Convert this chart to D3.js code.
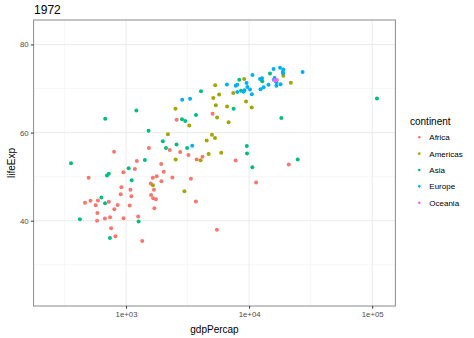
<!DOCTYPE html>
<html><head><meta charset="utf-8">
<script src="https://cdn.jsdelivr.net/npm/d3@7"></script>
<style>
html,body{margin:0;padding:0;background:#fff;}
svg text{font-family:"Liberation Sans",Arial,Helvetica,sans-serif;}
</style></head>
<body><svg id="chart" width="474" height="338"></svg>
<script>
// ---- data (gapminder, 1972) ----
const continents = ["Africa","Americas","Asia","Europe","Oceania"];
const continentColors = ["#F8766D","#A3A500","#00BF7D","#00B0F6","#E76BF3"];

const africaGdp = [4182.66,5473.29,1085.80,2263.61,854.74,464.10,1684.15,1070.01,1104.10,1937.58,904.90,3213.15,2378.20,3694.21,2024.01,672.41,514.32,566.24,11401.95,756.09,1178.22,741.67,820.22,1222.36,496.58,803.01,21011.50,1748.56,584.62,581.37,1586.85,2575.48,1930.19,724.92,3746.08,954.21,1698.39,5047.66,590.58,1532.99,1597.71,1353.76,1254.58,7765.96,1659.65,3364.84,915.99,1649.66,2753.29,950.74,1773.50,799.36];
const africaLife = [54.518,37.928,47.014,56.024,43.591,44.057,47.049,43.457,45.569,48.944,45.989,54.907,49.801,44.366,51.137,40.516,44.51,43.515,48.69,38.308,51.756,40.762,36.486,53.559,49.767,42.614,52.773,44.851,41.766,39.977,48.437,62.944,52.862,44.284,53.867,40.546,42.821,64.274,44.6,56.48,45.815,35.4,40.973,53.696,45.083,49.552,47.62,49.759,55.602,51.016,50.107,55.635];

const americasGdp = [9443.04,2980.33,4985.71,18970.57,5494.02,3264.66,5118.15,5305.45,2189.87,5280.99,4520.25,4031.41,1654.46,2529.84,7433.89,6809.41,4688.59,5364.25,2523.34,5937.83,9123.04,6619.55,21806.04,5703.41,10505.26];
const americasLife = [67.065,46.714,59.504,72.88,63.441,61.623,67.849,70.723,59.631,58.796,58.207,53.738,48.042,53.884,69.0,62.361,55.151,66.216,65.427,55.448,72.16,65.9,71.34,68.673,65.712];

const asiaGdp = [739.98,18268.66,630.23,421.62,676.90,8315.93,724.03,1111.11,9613.82,9576.04,12786.93,14778.79,2110.86,3701.62,3030.88,109347.87,7486.38,2849.09,1421.74,357.00,674.79,10618.04,1049.94,1989.37,24837.43,8597.76,1213.40,2571.42,4062.52,1524.36,699.50,3133.41,1265.05];
const asiaLife = [36.088,63.3,45.252,40.317,63.119,72.0,50.651,49.203,55.234,56.95,71.63,73.42,56.528,63.983,62.612,67.712,65.421,63.01,53.754,53.07,43.971,52.143,51.929,58.065,53.886,69.521,65.042,57.296,69.39,60.405,50.254,56.532,39.848];

const europeGdp = [3313.42,16661.63,16672.14,2860.17,6597.49,9164.09,13108.45,18866.21,14358.88,16107.19,18016.18,12724.83,10168.66,15798.06,9530.77,12269.27,7778.41,18794.75,18965.06,8006.51,9022.25,8011.41,10522.07,9674.17,12383.49,10638.75,17832.02,27195.11,3450.70,15895.12];
const europeLife = [67.69,70.63,71.44,67.45,70.9,69.61,70.29,73.47,70.87,72.38,71.0,72.34,69.76,74.46,71.28,72.19,70.636,73.75,74.34,70.85,69.26,69.21,68.7,70.35,69.82,73.06,74.72,73.78,57.005,72.01];

const oceaniaGdp = [16788.63,16046.04];
const oceaniaLife = [71.93,71.89];

// scale limits shared by all years of the animation
const gdpLimits = [241.1659,113523.13];
const lifeLimits = [23.599,82.603];
const xTicks = [1e3,1e4,1e5];
const xTickLabels = ["1e+03","1e+04","1e+05"];
const xMinor = [Math.pow(10,2.5),Math.pow(10,3.5),Math.pow(10,4.5)];
const yTicks = [40,60,80];
const yMinor = [30,50,70];
const titleText = "1972";

// ---- build ----
const gdpArr=[africaGdp,americasGdp,asiaGdp,europeGdp,oceaniaGdp];
const lifeArr=[africaLife,americasLife,asiaLife,europeLife,oceaniaLife];
const points=[];
continents.forEach((c,i)=>gdpArr[i].forEach((g,j)=>points.push({continent:c,gdp:g,life:lifeArr[i][j]})));

const svg=d3.select("#chart");
const P={l:33.6,r:395.4,t:20,b:306};

const lx=[Math.log10(gdpLimits[0]),Math.log10(gdpLimits[1])];
const ex=(lx[1]-lx[0])*0.05;
const x=d3.scaleLog().domain([Math.pow(10,lx[0]-ex),Math.pow(10,lx[1]+ex)]).range([P.l,P.r]);
const ey=(lifeLimits[1]-lifeLimits[0])*0.05;
const y=d3.scaleLinear().domain([lifeLimits[0]-ey,lifeLimits[1]+ey]).range([P.b,P.t]);
const color=d3.scaleOrdinal().domain(continents).range(continentColors);

// panel background
svg.append("rect").attr("x",P.l).attr("y",P.t).attr("width",P.r-P.l).attr("height",P.b-P.t).attr("fill","#fff");

// grid
const g=svg.append("g");
g.selectAll(".xmin").data(xMinor).join("line").attr("x1",d=>x(d)).attr("x2",d=>x(d)).attr("y1",P.t).attr("y2",P.b).attr("stroke","#F2F2F2").attr("stroke-width",0.6);
g.selectAll(".ymin").data(yMinor).join("line").attr("y1",d=>y(d)).attr("y2",d=>y(d)).attr("x1",P.l).attr("x2",P.r).attr("stroke","#F2F2F2").attr("stroke-width",0.6);
g.selectAll(".xmaj").data(xTicks).join("line").attr("x1",d=>x(d)).attr("x2",d=>x(d)).attr("y1",P.t).attr("y2",P.b).attr("stroke","#EBEBEB").attr("stroke-width",1);
g.selectAll(".ymaj").data(yTicks).join("line").attr("y1",d=>y(d)).attr("y2",d=>y(d)).attr("x1",P.l).attr("x2",P.r).attr("stroke","#EBEBEB").attr("stroke-width",1);

// points
svg.append("g").selectAll("circle").data(points).join("circle")
  .attr("cx",d=>x(d.gdp)).attr("cy",d=>y(d.life)).attr("r",2)
  .attr("fill",d=>color(d.continent));

// panel border
svg.append("rect").attr("x",P.l).attr("y",P.t).attr("width",P.r-P.l).attr("height",P.b-P.t)
  .attr("fill","none").attr("stroke","#8a8a8a").attr("stroke-width",1);

// axes
const xAxis=d3.axisBottom(x).tickValues(xTicks).tickFormat((d,i)=>xTickLabels[i]).tickSize(2.7).tickPadding(2.5);
const xg=svg.append("g").attr("transform",`translate(0,${P.b})`).call(xAxis);
xg.select(".domain").remove();
xg.selectAll("line").attr("stroke","#333");
xg.selectAll("text").attr("fill","#4D4D4D").attr("font-size",7.8);

const yAxis=d3.axisLeft(y).tickValues(yTicks).tickSize(2.7).tickPadding(2.2);
const yg=svg.append("g").attr("transform",`translate(${P.l},0)`).call(yAxis);
yg.select(".domain").remove();
yg.selectAll("line").attr("stroke","#333");
yg.selectAll("text").attr("fill","#4D4D4D").attr("font-size",7.8);

// titles
svg.append("text").attr("x",P.l+0.5).attr("y",14.4).attr("font-size",12).attr("fill","#000").text(titleText);
svg.append("text").attr("x",(P.l+P.r)/2).attr("y",333).attr("text-anchor","middle").attr("font-size",10).attr("fill","#000").text("gdpPercap");
svg.append("text").attr("transform",`translate(15,${(P.t+P.b)/2}) rotate(-90)`).attr("text-anchor","middle").attr("font-size",10).attr("fill","#000").text("lifeExp");

// legend
const lg=svg.append("g");
lg.append("text").attr("x",410).attr("y",125).attr("font-size",10).attr("fill","#000").text("continent");
const items=lg.selectAll(".item").data(continents).join("g").attr("transform",(d,i)=>`translate(0,${137.3+i*16.35})`);
items.append("circle").attr("cx",419.3).attr("cy",0).attr("r",1.3).attr("fill",d=>color(d));
items.append("text").attr("x",429.3).attr("y",2.9).attr("font-size",8).attr("fill","#000").text(d=>d);
</script></body></html>
